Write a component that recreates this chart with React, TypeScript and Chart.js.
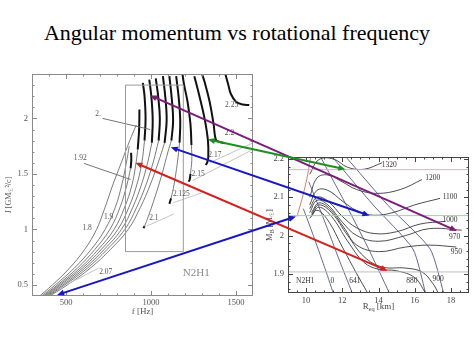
import React, { useEffect, useRef } from "react";
import { Chart, registerables } from "chart.js";
Chart.register(...registerables);

const SERIF = "'Liberation Serif', 'DejaVu Serif', serif";
type Pt = [number, number];

// ---------- left panel: J vs f ----------
const fTicks = [500, 1000, 1500];
const jTicks = [0.5, 1, 1.5, 2];

// thin parts of the constant baryon-mass sequences (f [Hz], J)
const n180: Pt[] = [[330, 0.38], [420, 0.5], [520, 0.65], [610, 0.82], [680, 1.0], [730, 1.2], [775, 1.4], [825, 1.6], [875, 1.8], [913, 1.94]];
const n185: Pt[] = [[340, 0.38], [437, 0.5], [548, 0.65], [648, 0.82], [730, 1.0], [790, 1.2], [828, 1.4], [855, 1.6], [872, 1.75]];
const n192: Pt[] = [[348, 0.38], [450, 0.5], [566, 0.65], [670, 0.82], [758, 1.0], [818, 1.2], [858, 1.4], [880, 1.55]];
const n195: Pt[] = [[355, 0.38], [460, 0.5], [582, 0.65], [690, 0.82], [783, 1.0], [845, 1.2], [888, 1.4], [912, 1.6], [922, 1.72]];
const n200: Pt[] = [[362, 0.38], [470, 0.5], [596, 0.65], [708, 0.82], [805, 1.0], [870, 1.2], [916, 1.4], [946, 1.6], [962, 1.8]];
const n203: Pt[] = [[368, 0.38], [482, 0.5], [610, 0.65], [725, 0.82], [826, 1.0], [893, 1.2], [943, 1.4], [980, 1.6], [1005, 1.78]];
const n205: Pt[] = [[375, 0.38], [493, 0.5], [625, 0.65], [742, 0.82], [846, 1.0], [916, 1.2], [970, 1.4], [1012, 1.6], [1045, 1.8]];
const n207: Pt[] = [[383, 0.38], [508, 0.5], [642, 0.65], [762, 0.82], [866, 1.0], [938, 1.2], [995, 1.4], [1042, 1.6], [1080, 1.78]];
const s210: Pt[] = [[960, 1.02], [985, 1.12], [1025, 1.3], [1065, 1.5], [1100, 1.7], [1120, 1.8]];
const s2125: Pt[] = [[1118, 1.28], [1135, 1.4], [1155, 1.6], [1168, 1.78]];
const s215: Pt[] = [[1232, 1.5], [1240, 1.62], [1238, 1.76]];

// thick parts
const t192: Pt[] = [[880, 1.55], [884, 1.62], [883, 1.69]];
const t195: Pt[] = [[922, 1.72], [930, 1.9], [932, 2.08]];
const t200: Pt[] = [[962, 1.8], [968, 2.0], [962, 2.2], [952, 2.32]];
const t203: Pt[] = [[1005, 1.78], [1010, 1.98], [1003, 2.18], [990, 2.35]];
const t205: Pt[] = [[1045, 1.8], [1052, 2.0], [1042, 2.2], [1028, 2.36]];
const t207: Pt[] = [[1080, 1.78], [1092, 1.98], [1085, 2.18], [1070, 2.38]];
const t210dot: Pt[] = [[955, 1.012], [963, 1.03]];
const t210: Pt[] = [[1120, 1.8], [1130, 1.98], [1122, 2.18], [1108, 2.38]];
const t2125hook: Pt[] = [[1108, 1.23], [1112, 1.25], [1118, 1.28]];
const t2125: Pt[] = [[1168, 1.78], [1172, 1.98], [1162, 2.2], [1148, 2.38]];
const t215hook: Pt[] = [[1222, 1.43], [1228, 1.45], [1232, 1.5]];
const t215: Pt[] = [[1238, 1.76], [1232, 1.95], [1215, 2.15], [1195, 2.3], [1185, 2.4]];
const t217: Pt[] = [[1322, 1.58], [1330, 1.6], [1337, 1.65], [1335, 1.8], [1315, 2.0], [1285, 2.2], [1255, 2.38]];
const t220: Pt[] = [[1434, 1.775], [1400, 1.79], [1381, 1.81], [1368, 1.95], [1345, 2.15], [1315, 2.33], [1300, 2.4]];
const t225: Pt[] = [[1434, 2.42], [1455, 2.3], [1470, 2.22], [1500, 2.15], [1540, 2.125], [1578, 2.12]];

// leader and Kepler lines
const lead207: Pt[] = [[514, 0.51], [690, 0.65]];
const lead210: Pt[] = [[975, 1.03], [1135, 1.14]];
const kep1: Pt[] = [[1130, 1.24], [1300, 1.33]];
const kep2: Pt[] = [[1245, 1.44], [1600, 1.72]];
const kep3: Pt[] = [[1345, 1.6], [1600, 1.78]];
const lead200: Pt[] = [[715, 2.0], [995, 1.9]];
const lead192: Pt[] = [[605, 1.595], [880, 1.45]];
const boxF = [850, 1190];
const boxJ = [0.8, 2.3];

const leftLabelText = ["2.25", "2.2", "2.17", "2.15", "2.125", "2.1", "2.", "1.92", "1.9", "1.8", "2.07"];
const leftLabelF = [1474, 1462, 1376, 1277, 1179, 1017, 688, 584, 751, 624, 734];
const leftLabelJ = [2.12, 1.87, 1.67, 1.5, 1.32, 1.1, 2.04, 1.64, 1.11, 1.01, 0.62];

// ---------- right panel: M_B vs R_eq ----------
const rTicks = [10, 12, 14, 16, 18];
const mTicks = [1.9, 2, 2.1, 2.2];

const k1320: Pt[] = [[10.2, 2.16], [10.7, 2.198], [11.5, 2.2], [12.3, 2.178], [13.2, 2.173], [14.2, 2.19]];
const k1200: Pt[] = [[10.2, 2.1], [10.6, 2.15], [11.2, 2.158], [12.0, 2.14], [12.8, 2.12], [13.9, 2.11], [15.2, 2.12], [16.4, 2.146]];
const k1100: Pt[] = [[10.2, 2.08], [10.6, 2.118], [11.2, 2.118], [12.0, 2.09], [12.8, 2.065], [13.7, 2.053], [14.8, 2.06], [16.0, 2.08], [17.4, 2.097]];
const k1000: Pt[] = [[10.2, 2.07], [10.6, 2.1], [11.2, 2.09], [12.0, 2.05], [12.8, 2.02], [13.8, 2.005], [15.0, 2.01], [16.3, 2.03], [17.7, 2.037]];
const k970: Pt[] = [[10.2, 2.06], [10.6, 2.092], [11.2, 2.08], [12.0, 2.035], [12.8, 2.0], [14.0, 1.985], [15.5, 2.0], [16.8, 2.018], [18.6, 2.014]];
const k950: Pt[] = [[10.3, 2.06], [10.7, 2.085], [11.3, 2.07], [12.1, 2.02], [12.8, 1.975], [14.0, 1.958], [15.5, 1.97], [16.8, 1.975], [18.3, 1.97]];
const k900: Pt[] = [[10.3, 2.055], [10.7, 2.08], [11.4, 2.06], [12.3, 2.0], [13.2, 1.945], [14.2, 1.918], [15.5, 1.915], [16.4, 1.905], [17.0, 1.875], [17.3, 1.85]];
const k880: Pt[] = [[10.3, 2.05], [10.7, 2.074], [11.4, 2.05], [12.3, 1.985], [13.2, 1.93], [14.0, 1.912], [15.0, 1.908], [16.0, 1.89], [16.6, 1.85]];
const k800: Pt[] = [[10.2, 2.045], [10.6, 2.066], [11.2, 2.04], [12.0, 1.97], [12.8, 1.9], [13.4, 1.85]];
const nv0: Pt[] = [[9.85, 2.07], [10.4, 2.0], [11.0, 1.92], [11.5, 1.85]];
const nv641: Pt[] = [[10.15, 2.14], [11.0, 2.04], [11.8, 1.94], [12.55, 1.85]];
const nvC: Pt[] = [[10.8, 2.205], [12.1, 2.09], [13.4, 1.97], [14.6, 1.85]];
const nvD: Pt[] = [[11.45, 2.205], [13.7, 2.08], [15.9, 1.965], [16.6, 1.85]];
const nvE: Pt[] = [[12.2, 2.205], [14.5, 2.08], [16.85, 1.965], [17.6, 1.85]];
const kepRed: Pt[] = [[9.5, 2.05], [9.8, 2.1], [10.05, 2.15], [10.25, 2.205]];
const hPink = 2.172;
const hGreen = 2.052;
const hGrey = 1.905;

const rightLabelText = ["1320", "1200", "1100", "1000", "970", "950", "900", "880", "641", "0", "N2H1"];
const rightLabelR = [14.6, 17.0, 17.95, 17.95, 18.2, 18.3, 17.3, 15.85, 12.7, 11.45, 9.95];
const rightLabelM = [2.183, 2.15, 2.1, 2.04, 1.997, 1.958, 1.887, 1.88, 1.88, 1.88, 1.88];

// ---------- arrows linking the panels ----------
const arrowColor = ["#7d1a7d", "#1f8f1f", "#1717c4", "#d91e1e", "#1717c4"];
const arrowF = [994, 1335, 1116, 908, 448];
const arrowJ = [2.207, 1.81, 1.74, 1.6, 0.41];
const arrowR = [18.33, 12.17, 13.5, 14.5, 9.44];
const arrowM = [2.012, 2.173, 2.052, 1.908, 2.05];

function range(a: number, b: number, s: number) {
  const out: number[] = [];
  for (let v = a; v <= b + s / 1000; v += s) out.push(+v.toFixed(4));
  return out;
}

function line(pts: Pt[], color: string, width: number, tension = 0.4) {
  return {
    data: pts.map(([x, y]) => ({ x, y })),
    showLine: true,
    borderColor: color,
    borderWidth: width,
    pointRadius: 0,
    tension,
    fill: false,
  };
}

function framePlugin(id: string, xMajor: number[], xMinor: number[], yMajor: number[], yMinor: number[], color: string) {
  return {
    id,
    afterDatasetsDraw(chart: any) {
      const { ctx, chartArea: a, scales } = chart;
      const x = scales.x, y = scales.y;
      ctx.save();
      ctx.strokeStyle = color;
      ctx.lineWidth = 1;
      ctx.strokeRect(a.left + 0.5, a.top + 0.5, a.right - a.left - 1, a.bottom - a.top - 1);
      ctx.beginPath();
      const tx = (v: number, len: number) => {
        const p = Math.round(x.getPixelForValue(v)) + 0.5;
        ctx.moveTo(p, a.bottom); ctx.lineTo(p, a.bottom - len);
        ctx.moveTo(p, a.top); ctx.lineTo(p, a.top + len);
      };
      const ty = (v: number, len: number) => {
        const p = Math.round(y.getPixelForValue(v)) + 0.5;
        ctx.moveTo(a.left, p); ctx.lineTo(a.left + len, p);
        ctx.moveTo(a.right, p); ctx.lineTo(a.right - len, p);
      };
      xMinor.forEach((v) => tx(v, 2.5));
      xMajor.forEach((v) => tx(v, 5));
      yMinor.forEach((v) => ty(v, 2.5));
      yMajor.forEach((v) => ty(v, 5));
      ctx.stroke();
      ctx.restore();
    },
  };
}

function labelPlugin(id: string, texts: string[], xs: number[], ys: number[], font: string, color: string, align: CanvasTextAlign = "center") {
  return {
    id,
    afterDatasetsDraw(chart: any) {
      const { ctx, scales } = chart;
      ctx.save();
      ctx.font = font;
      ctx.fillStyle = color;
      ctx.textAlign = align;
      ctx.textBaseline = "middle";
      texts.forEach((t, i) => ctx.fillText(t, scales.x.getPixelForValue(xs[i]), scales.y.getPixelForValue(ys[i])));
      ctx.restore();
    },
  };
}

function drawSub(ctx: CanvasRenderingContext2D, parts: [string, boolean][], size: number, cx: number, cy: number) {
  const widths = parts.map(([t, sub]) => {
    ctx.font = `${sub ? size * 0.7 : size}px ${SERIF}`;
    return ctx.measureText(t).width;
  });
  let x = cx - widths.reduce((s, w) => s + w, 0) / 2;
  parts.forEach(([t, sub], i) => {
    ctx.font = `${sub ? size * 0.7 : size}px ${SERIF}`;
    ctx.fillText(t, x, cy + (sub ? size * 0.3 : 0));
    x += widths[i];
  });
}

function arrowHead(ctx: CanvasRenderingContext2D, x: number, y: number, a: number) {
  const h = 7, w = 3;
  ctx.beginPath();
  ctx.moveTo(x, y);
  ctx.lineTo(x - h * Math.cos(a) + w * Math.sin(a), y - h * Math.sin(a) - w * Math.cos(a));
  ctx.lineTo(x - h * Math.cos(a) - w * Math.sin(a), y - h * Math.sin(a) + w * Math.cos(a));
  ctx.closePath();
  ctx.fill();
}

export default function App() {
  const leftRef = useRef<HTMLCanvasElement>(null);
  const rightRef = useRef<HTMLCanvasElement>(null);

  useEffect(() => {
    const thinGrey = "#5a5a5a";
    const leftDatasets: any[] = [
      line([[boxF[0], boxJ[0]], [boxF[1], boxJ[0]], [boxF[1], boxJ[1]], [boxF[0], boxJ[1]], [boxF[0], boxJ[0]]], "#9a9a9a", 1, 0),
      ...[lead207, lead210, kep1, kep2, kep3].map((p) => line(p, "#c4c4c4", 1, 0)),
      ...[lead200, lead192].map((p) => line(p, "#666", 0.9, 0)),
      ...[n180, n185, n192, n195, n200, n203, n205, n207, s210, s2125, s215].map((p) => line(p, thinGrey, 0.8)),
      ...[t192, t195, t200, t203, t205, t207, t210dot, t210, t2125hook, t2125, t215hook, t215, t217, t220, t225].map((p) => line(p, "#111", 2)),
    ];

    const axisCommon = (min: number, max: number, ticks: number[]) => ({
      type: "linear",
      min,
      max,
      grid: { display: false, drawTicks: false },
      border: { display: false },
      afterBuildTicks: (s: any) => { s.ticks = ticks.map((v) => ({ value: v })); },
      ticks: {
        font: { family: SERIF, size: 8.5 },
        color: "#555",
        maxRotation: 0,
        autoSkip: false,
        callback: (v: any) => String(v),
      },
    });

    const left = new Chart(leftRef.current!, {
      type: "scatter",
      data: { datasets: leftDatasets },
      options: {
        animation: false,
        responsive: false,
        devicePixelRatio: 1,
        events: [],
        layout: { padding: { left: 0, top: 74, right: 221, bottom: 0 } },
        plugins: { legend: { display: false }, tooltip: { enabled: false } },
        scales: {
          x: { ...axisCommon(300, 1600, fTicks), afterFit: (s: any) => { s.height = 59; }, ticks: { ...axisCommon(0, 0, []).ticks, padding: 2 } },
          y: { ...axisCommon(0.4, 2.4, jTicks), afterFit: (s: any) => { s.width = 32; }, ticks: { ...axisCommon(0, 0, []).ticks, padding: 4 } },
        },
      } as any,
      plugins: [
        framePlugin("leftFrame", fTicks, range(400, 1500, 100), jTicks, range(0.5, 2.3, 0.1), "#8a8a8a"),
        labelPlugin("leftLabels", leftLabelText, leftLabelF, leftLabelJ, `7.5px ${SERIF}`, "#555"),
        labelPlugin("leftName", ["N2H1"], [1266], [0.61], `11px ${SERIF}`, "#8a8a8a"),
        {
          id: "leftTitles",
          afterDraw(chart: any) {
            const { ctx, chartArea: a } = chart;
            ctx.save();
            ctx.fillStyle = "#555";
            ctx.textAlign = "left";
            ctx.textBaseline = "middle";
            drawSub(ctx, [["f [Hz]", false]], 9, (a.left + a.right) / 2, a.bottom + 16);
            ctx.translate(a.left - 23, (a.top + a.bottom) / 2 + 10);
            ctx.rotate(-Math.PI / 2);
            drawSub(ctx, [["J [GM", false], ["☉", true], ["²", false], ["/c]", false]], 8, 0, 0);
            ctx.restore();
          },
        },
      ],
    });

    const navy = "#3d4278";
    const rightDatasets: any[] = [
      line([[9, hPink], [19, hPink]], "#cdb6cf", 1, 0),
      line([[9, hGreen], [19, hGreen]], "#8fe08f", 1, 0),
      line([[9, hGrey], [19, hGrey]], "#bdbdbd", 1, 0),
      line(kepRed, "#c0604a", 0.8, 0.2),
      ...[nv0, nv641, nvC, nvD, nvE].map((p) => line(p, navy, 0.8, 0.2)),
      ...[k1320, k1200, k1100, k1000, k970, k950, k900, k880, k800].map((p) => line(p, "#3a3a3a", 0.9)),
    ];

    const arrowsPlugin = {
      id: "arrows",
      afterDraw(chart: any) {
        const ctx: CanvasRenderingContext2D = chart.ctx;
        const lx = left.scales.x, ly = left.scales.y;
        const rx = chart.scales.x, ry = chart.scales.y;
        ctx.save();
        arrowColor.forEach((c, i) => {
          const x1 = lx.getPixelForValue(arrowF[i]), y1 = ly.getPixelForValue(arrowJ[i]);
          const x2 = rx.getPixelForValue(arrowR[i]), y2 = ry.getPixelForValue(arrowM[i]);
          const a = Math.atan2(y2 - y1, x2 - x1);
          ctx.strokeStyle = c;
          ctx.fillStyle = c;
          ctx.lineWidth = 2;
          ctx.beginPath();
          ctx.moveTo(x1 + 5 * Math.cos(a), y1 + 5 * Math.sin(a));
          ctx.lineTo(x2 - 5 * Math.cos(a), y2 - 5 * Math.sin(a));
          ctx.stroke();
          arrowHead(ctx, x2, y2, a);
          arrowHead(ctx, x1, y1, a + Math.PI);
        });
        ctx.restore();
      },
    };

    const right = new Chart(rightRef.current!, {
      type: "scatter",
      data: { datasets: rightDatasets },
      options: {
        animation: false,
        responsive: false,
        devicePixelRatio: 1,
        events: [],
        layout: { padding: { left: 0, top: 157, right: 5, bottom: 0 } },
        plugins: { legend: { display: false }, tooltip: { enabled: false } },
        scales: {
          x: { ...axisCommon(9, 19, rTicks), afterFit: (s: any) => { s.height = 62; }, ticks: { ...axisCommon(0, 0, []).ticks, color: "#444", padding: 3 } },
          y: { ...axisCommon(1.85, 2.205, mTicks), afterFit: (s: any) => { s.width = 288; }, ticks: { ...axisCommon(0, 0, []).ticks, color: "#444", padding: 4 } },
        },
      } as any,
      plugins: [
        {
          id: "panelBg",
          beforeDraw(chart: any) {
            const { ctx, chartArea: a } = chart;
            ctx.save();
            ctx.fillStyle = "#fff";
            ctx.fillRect(a.left, a.top, a.right - a.left, a.bottom - a.top);
            ctx.restore();
          },
        },
        framePlugin("rightFrame", rTicks, range(9.5, 18.5, 0.5), mTicks, range(1.86, 2.2, 0.02), "#444"),
        labelPlugin("rightLabels", rightLabelText, rightLabelR, rightLabelM, `7.5px ${SERIF}`, "#333"),
        {
          id: "rightTitles",
          afterDraw(chart: any) {
            const { ctx, chartArea: a } = chart;
            ctx.save();
            ctx.fillStyle = "#444";
            ctx.textAlign = "left";
            ctx.textBaseline = "middle";
            drawSub(ctx, [["R", false], ["eq", true], [" [km]", false]], 9, (a.left + a.right) / 2, a.bottom + 14);
            ctx.translate(a.left - 18, (a.top + a.bottom) / 2);
            ctx.rotate(-Math.PI / 2);
            drawSub(ctx, [["M", false], ["B", true], [" [M", false], ["☉", true], ["]", false]], 8.5, 0, 0);
            ctx.restore();
          },
        },
        arrowsPlugin,
      ],
    });

    return () => {
      right.destroy();
      left.destroy();
    };
  }, []);

  return (
    <div style={{ position: "fixed", left: 0, top: 0, width: 474, height: 355, background: "#fff", overflow: "hidden" }}>
      <div style={{ position: "absolute", left: 0, top: 20, width: 474, textAlign: "center", fontFamily: SERIF, fontSize: 22, lineHeight: "26px", color: "#000" }}>
        Angular momentum vs rotational frequency
      </div>
      <canvas ref={leftRef} width={474} height={355} style={{ position: "absolute", left: 0, top: 0 }} />
      <canvas ref={rightRef} width={474} height={355} style={{ position: "absolute", left: 0, top: 0 }} />
    </div>
  );
}
